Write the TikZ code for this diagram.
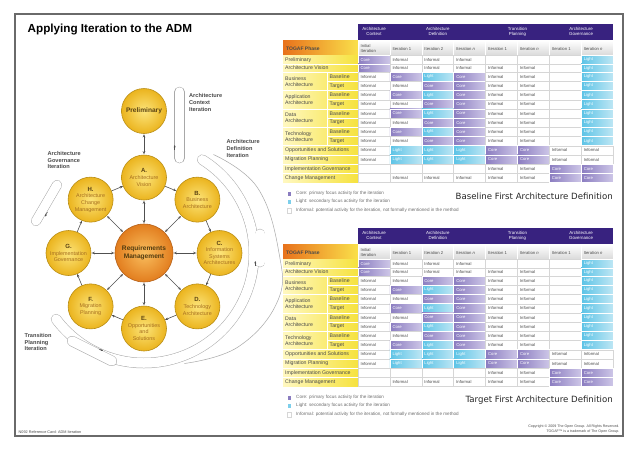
\documentclass[tikz,border=0pt]{standalone}
\usepackage{fontspec}
\setmainfont{Liberation Sans}
\newfontfamily\capfont{DejaVu Sans}
\usetikzlibrary{arrows.meta,calc}
\definecolor{frameC}{HTML}{6A6A6A}
\definecolor{purpleHead}{HTML}{38227F}
\definecolor{coreL}{HTML}{8A7CC0}
\definecolor{coreR}{HTML}{CDC6E7}
\definecolor{lightL}{HTML}{5CC3E6}
\definecolor{lightR}{HTML}{BDE6F4}
\definecolor{gridC}{HTML}{D6D6D6}
\definecolor{txtC}{HTML}{4A4A4A}
\definecolor{yelL}{HTML}{FFF8C0}
\definecolor{yelR}{HTML}{F6E23E}
\definecolor{orgL}{HTML}{E8721C}
\definecolor{orgR}{HTML}{FAE04A}
\definecolor{ballIn}{HTML}{FCE47A}
\definecolor{ballOut}{HTML}{EBB41E}
\definecolor{ballEdge}{HTML}{B98E16}
\definecolor{rmIn}{HTML}{F9BE5E}
\definecolor{rmOut}{HTML}{E27D1E}
\definecolor{rmEdge}{HTML}{B5611A}
\definecolor{letterC}{HTML}{5A4212}
\definecolor{descC}{HTML}{A66E1E}
\definecolor{arrowC}{HTML}{505050}
\definecolor{bandC}{HTML}{A8A8A8}
\newcommand\ctextC{Core}
\newcommand\ctextL{Light}
\newcommand\ctextI{Informal}
\newcommand\ctextN{}
\newcommand\fs[1]{\fontsize{#1}{#1}\selectfont}
\newcommand\plet[1]{{\bfseries\fontsize{6}{6}\selectfont\color{letterC}#1}}
\tikzset{
  cellC/.style={left color=coreL, right color=coreR, draw=white, line width=0.5pt},
  cellL/.style={left color=lightL, right color=lightR, draw=white, line width=0.5pt},
  cellI/.style={fill=white, draw=gridC, line width=0.3pt},
  cellN/.style={fill=white, draw=gridC, line width=0.3pt},
  ctxt/.style={anchor=west, inner sep=0pt, font=\fs{4.2}},
  ctxtC/.style={ctxt, text=white},
  ctxtL/.style={ctxt, text=white},
  ctxtI/.style={ctxt, text=txtC},
  ctxtN/.style={ctxt},
  headtxt/.style={align=center, text=white, inner sep=0pt, font=\fontsize{4.4}{5}\selectfont},
  colhead/.style={anchor=west, align=left, inner sep=0pt, text=txtC, font=\fontsize{4.2}{4.6}\selectfont},
  rowlab/.style={anchor=west, align=left, inner sep=0pt, text=txtC, font=\fontsize{5.2}{5.8}\selectfont},
  legsq/.style={minimum size=4.5pt, inner sep=0pt, draw=white, line width=0.3pt},
  legtxt/.style={anchor=west, inner sep=0pt, text=txtC!80, font=\fs{4.6}},
  phase/.style={circle, minimum size=45pt, inner sep=0pt, draw=ballEdge, line width=0.6pt,
    inner color=ballIn, outer color=ballOut, align=center, text=descC,
    font=\fontsize{5.4}{6.6}\selectfont},
  rmnode/.style={circle, minimum size=58pt, inner sep=0pt, draw=rmEdge, line width=0.6pt,
    inner color=rmIn, outer color=rmOut, align=center, text=letterC!90!black,
    font=\bfseries\fontsize{6.6}{8.4}\selectfont},
  cyc/.style={-{Stealth[length=3pt,width=2.6pt]}, draw=arrowC, line width=0.6pt},
  biarr/.style={{Stealth[length=3pt,width=2.6pt]}-{Stealth[length=3pt,width=2.6pt]}, draw=arrowC, line width=0.6pt, shorten <=0.5pt, shorten >=0.5pt},
  bandd/.style={draw=bandC, line width=0.5pt, double=white, line cap=round},
  bandline/.style={draw=bandC, line width=0.5pt},
  itlab/.style={anchor=west, align=left, inner sep=0pt, text=txtC, font=\bfseries\fontsize{5.6}{6.7}\selectfont},
  tip/.style={-{Stealth[length=2.4pt,width=2pt]}, draw=arrowC, line width=0.5pt}
}
% #1 y offset, #2 id, #3 rows, #4 title
\newcommand\drawtable[4]{%
\begin{scope}[shift={(0,#1)}]
  \fill[purpleHead] (358,24) rectangle (613,39.5);
  \node[headtxt] (#2-g1) at (374,31.7) {Architecture\\Context};
  \node[headtxt] (#2-g2) at (437.8,31.7) {Architecture\\Definition};
  \node[headtxt] (#2-g3) at (517.4,31.7) {Transition\\Planning};
  \node[headtxt] (#2-g4) at (581.1,31.7) {Architecture\\Governance};
  \shade[left color=orgL, right color=orgR] (283,40.5) rectangle (358,55.5);
  \node[rowlab, font=\bfseries\fs{5}] (#2-phase) at (286,49) {TOGAF Phase};
  \foreach \lab [count=\ci] in {{Initial\\Iteration},Iteration 1,Iteration 2,Iteration \textit{n},Iteration 1,Iteration \textit{n},Iteration 1,Iteration \textit{n}} {
    \pgfmathsetmacro\xl{358+(\ci-1)*31.875}
    \shade[top color=white, bottom color=gray!30, draw=white, line width=0.5pt] (\xl,40.5) rectangle ++(31.875,15);
    \node[colhead] (#2-h\ci) at (\xl+2.5,48.5) {\lab};
  }
  \shade[left color=yelL, right color=yelR] (283,55.5) rectangle (358,182.5);
  \foreach \yy in {63.8,72.1,90.5,108.9,127.3,145.7,154.9,164.1,173.3}
    \draw[white, line width=0.6pt] (283,\yy) -- (358,\yy);
  \foreach \yy in {81.3,99.7,118.1,136.5}
    \draw[white, line width=0.6pt] (327,\yy) -- (358,\yy);
  \draw[white, line width=0.6pt] (327,72.1) -- (327,145.7);
  \node[rowlab] (#2-l1) at (285,59.7) {Preliminary};
  \node[rowlab] (#2-l2) at (285,68) {Architecture Vision};
  \node[rowlab] (#2-l3) at (285,81.3) {Business\\Architecture};
  \node[rowlab] (#2-l5) at (285,99.7) {Application\\Architecture};
  \node[rowlab] (#2-l7) at (285,118.1) {Data\\Architecture};
  \node[rowlab] (#2-l9) at (285,136.5) {Technology\\Architecture};
  \foreach \yy/\nm [count=\k] in {76.7/Baseline,85.9/Target,95.1/Baseline,104.3/Target,113.5/Baseline,122.7/Target,131.9/Baseline,141.1/Target}
    \node[rowlab] (#2-s\k) at (329.5,\yy) {\nm};
  \node[rowlab] (#2-l11) at (285,150.3) {Opportunities and Solutions};
  \node[rowlab] (#2-l12) at (285,159.5) {Migration Planning};
  \node[rowlab] (#2-l13) at (285,168.7) {Implementation Governance};
  \node[rowlab] (#2-l14) at (285,177.9) {Change Management};
  \foreach \rw/\ty/\hr/\vals in {#3} {
    \foreach \vv [count=\ci] in \vals {
      \pgfmathsetmacro\xl{358+(\ci-1)*31.875}
      \path[cell\vv] (\xl,\ty) rectangle ++(31.875,\hr);
      \node[ctxt\vv] (#2-\rw-\ci) at (\xl+2.5,\ty+\hr/2) {\csname ctext\vv\endcsname};
    }
  }
  \node[legsq, fill=coreL] (#2-lc) at (289,193.7) {};
  \node[legsq, fill=lightL!80] (#2-ll) at (289,201.7) {};
  \node[legsq, fill=white, draw=gridC] (#2-li) at (289,210.4) {};
  \node[legtxt] (#2-tc) at (296,193.7) {Core: primary focus activity for the iteration};
  \node[legtxt] (#2-tl) at (296,201.7) {Light: secondary focus activity for the iteration};
  \node[legtxt] (#2-ti) at (296,210.4) {Informal: potential activity for the iteration, not formally mentioned in the method};
  \node[anchor=east, inner sep=0pt, text=black!85, font=\capfont\fs{8.6}] (#2-title) at (613,195.9) {#4};
\end{scope}}
\begin{document}
\begin{tikzpicture}[x=1pt,y=-1pt]
\useasboundingbox (0,0) rectangle (638,456);
\fill[white] (0,0) rectangle (638,456);
\draw[frameC, line width=1.2pt] (15,14) rectangle (623,436);
\node[anchor=west, inner sep=0pt, font=\bfseries\fs{11.7}] (title) at (27.5,29.5) {Applying Iteration to the ADM};

% ---------- iteration bands ----------
\coordinate (O) at (144,253);
\draw[bandline] plot[smooth, tension=0.7] coordinates {(213.4,154.5) (257.4,187.5) (279,253) (277.4,301.6) (238,347) (184.4,363.5)};
\draw[bandd, double distance=9.5pt] ($(O)+(-58:110)$) arc[start angle=-58, end angle=143, radius=110];
\draw[bandd, double distance=9.5pt] (179.5,92) -- (179.5,158);
\draw[bandd, double distance=9.5pt] (260,234) -- (260,262);
\draw[bandd, double distance=9pt] (57,185) -- (36,221);
\draw[bandd, double distance=9.5pt] (72,341) -- (112,361);
\coordinate (t1a) at (174.7,150); \coordinate (t1b) at (174.7,145);
\draw[tip] (t1a) -- (t1b);
\coordinate (t2a) at (255.3,266); \coordinate (t2b) at (255.3,261);
\draw[tip] (t2a) -- (t2b);
\coordinate (t3a) at (47.5,212); \coordinate (t3b) at (45,216.5);
\draw[tip] (t3a) -- (t3b);
\coordinate (t4a) at (99,349); \coordinate (t4b) at (103,351);
\draw[tip] (t4a) -- (t4b);

\node[itlab] (lctx) at (189,102.5) {Architecture\\Context\\Iteration};
\node[itlab] (ldef) at (226.5,148.5) {Architecture\\Definition\\Iteration};
\node[itlab] (lgov) at (47.5,160) {Architecture\\Governance\\Iteration};
\node[itlab] (ltp) at (24.5,342) {Transition\\Planning\\Iteration};

% ---------- ADM cycle ----------
\node[rmnode] (rm) at (O) {Requirements\\Management};
\node[phase, font=\bfseries\fs{6.6}, text=letterC] (prelim) at (144,111) {Preliminary};
\node[phase] (pa) at ($(O)+(-90:75.5)$) {\plet{A.}\\Architecture\\Vision};
\node[phase] (pb) at ($(O)+(-45:75.5)$) {\plet{B.}\\Business\\Architecture};
\node[phase] (pc) at ($(O)+(0:75.5)$) {\plet{C.}\\Information\\Systems\\Architectures};
\node[phase] (pd) at ($(O)+(45:75.5)$) {\plet{D.}\\Technology\\Architecture};
\node[phase] (pe) at ($(O)+(90:75.5)$) {\plet{E.}\\Opportunities\\and\\Solutions};
\node[phase] (pf) at ($(O)+(135:75.5)$) {\plet{F.}\\Migration\\Planning};
\node[phase] (pg) at ($(O)+(180:75.5)$) {\plet{G.}\\Implementation\\Governance};
\node[phase] (ph) at ($(O)+(-135:75.5)$) {\plet{H.}\\Architecture\\Change\\Management};

\draw[biarr] (prelim) -- (pa);
\foreach \p in {pa,pb,pc,pd,pe,pf,pg,ph}
  \draw[biarr] (rm) -- (\p);
\draw[cyc] (pa) -- (pb);
\draw[cyc] (pb) -- (pc);
\draw[cyc] (pc) -- (pd);
\draw[cyc] (pd) -- (pe);
\draw[cyc] (pe) -- (pf);
\draw[cyc] (pf) -- (pg);
\draw[cyc] (pg) -- (ph);
\draw[cyc] (ph) -- (pa);

% ---------- tables ----------
\drawtable{0}{ta}{1/55.5/8.3/{C,I,I,I,N,N,N,L},
 2/63.8/8.3/{C,I,I,I,I,I,N,L},
 3/72.1/9.2/{I,C,L,C,I,I,N,L},
 4/81.3/9.2/{I,I,C,C,I,I,N,L},
 5/90.5/9.2/{I,C,L,C,I,I,N,L},
 6/99.7/9.2/{I,I,C,C,I,I,N,L},
 7/108.9/9.2/{I,C,L,C,I,I,N,L},
 8/118.1/9.2/{I,I,C,C,I,I,N,L},
 9/127.3/9.2/{I,C,L,C,I,I,N,L},
 10/136.5/9.2/{I,I,C,C,I,I,N,L},
 11/145.7/9.2/{I,L,L,L,C,C,I,I},
 12/154.9/9.2/{I,L,L,L,C,C,I,I},
 13/164.1/9.2/{N,N,N,N,I,I,C,C},
 14/173.3/9.2/{N,I,I,I,I,I,C,C}}{Baseline First Architecture Definition}
\drawtable{204}{tb}{1/55.5/8.3/{C,I,I,I,N,N,N,L},
 2/63.8/8.3/{C,I,I,I,I,I,N,L},
 3/72.1/9.2/{I,I,C,C,I,I,N,L},
 4/81.3/9.2/{I,C,L,C,I,I,N,L},
 5/90.5/9.2/{I,I,C,C,I,I,N,L},
 6/99.7/9.2/{I,C,L,C,I,I,N,L},
 7/108.9/9.2/{I,I,C,C,I,I,N,L},
 8/118.1/9.2/{I,C,L,C,I,I,N,L},
 9/127.3/9.2/{I,I,C,C,I,I,N,L},
 10/136.5/9.2/{I,C,L,C,I,I,N,L},
 11/145.7/9.2/{I,L,L,L,C,C,I,I},
 12/154.9/9.2/{I,L,L,L,C,C,I,I},
 13/164.1/9.2/{N,N,N,N,I,I,C,C},
 14/173.3/9.2/{N,I,I,I,I,I,C,C}}{Target First Architecture Definition}

\node[anchor=west, inner sep=0pt, text=txtC, font=\fs{3.8}] (foot) at (18.5,431.7) {N092 Reference Card: ADM Iteration};
\node[anchor=east, align=right, inner sep=0pt, text=txtC, font=\fontsize{3.6}{5.3}\selectfont] (copy) at (619.5,429.4) {Copyright © 2009 The Open Group. All Rights Reserved.\\TOGAF™ is a trademark of The Open Group.};
\end{tikzpicture}
\end{document}
